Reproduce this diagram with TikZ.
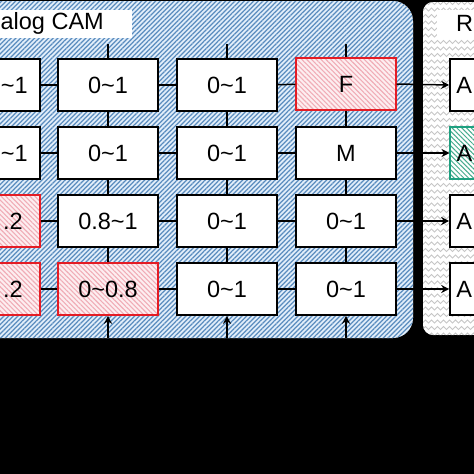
\documentclass[tikz,border=0pt]{standalone}
\usepackage{fontspec}
\setmainfont{Liberation Sans}
\usetikzlibrary{arrows.meta,positioning,patterns.meta,decorations.pathmorphing}
\definecolor{camFill}{RGB}{226,238,250}
\definecolor{camStripe}{RGB}{90,140,190}
\definecolor{missLine}{RGB}{228,28,36}
\definecolor{missFill}{RGB}{253,238,240}
\definecolor{missStripe}{RGB}{240,172,182}
\definecolor{hitLine}{RGB}{30,160,128}
\definecolor{hitStripe}{RGB}{70,172,142}
\newcommand{\rng}[2]{#1\textasciitilde#2}

\begin{document}
\begin{tikzpicture}[x=1pt, y=-1pt,
  every node/.style={font=\fontsize{23.5}{28}\selectfont},
  cellbase/.style={draw, line width=1.6pt, minimum width=100pt, minimum height=52pt, inner sep=0pt},
  cell/.style={cellbase, fill=white},
  miss/.style={cellbase, draw=missLine, preaction={fill=missFill},
    pattern={Lines[angle=-45, distance=3.4pt, line width=1.1pt]}, pattern color=missStripe},
  hit/.style={cellbase, draw=hitLine, preaction={fill=white},
    pattern={Lines[angle=-45, distance=3.4pt, line width=1pt]}, pattern color=hitStripe},
  celltext/.style={inner sep=0pt},
  panellabel/.style={fill=white, inner ysep=0pt, minimum height=28pt},
  wire/.style={line width=1.5pt},
  arrowwire/.style={wire, -{Stealth[length=8pt, width=8pt]}},
  wavy/.style={gray!45, line width=0.8pt, decorate, decoration={zigzag, segment length=6pt, amplitude=1.6pt}},
]
\useasboundingbox (0,0) rectangle (474,474);
\clip (0,0) rectangle (474,474);
\fill[black] (0,0) rectangle (474,474);
% analog CAM panel
\fill[camFill] (-40,1) [rounded corners=20pt] rectangle (413,338);
\path[pattern={Lines[angle=45, distance=3.3pt, line width=1.25pt]}, pattern color=camStripe]
  (-40,1) [rounded corners=20pt] rectangle (413,338);
\node[panellabel, anchor=east, inner xsep=28pt] (camlabel) at (132,23.5) {alog CAM};
% result panel
\begin{scope}
  \clip[rounded corners=10pt] (423,2) rectangle (500,335);
  \fill[white] (423,2) rectangle (500,335);
  \foreach \yy in {3,9.5,...,336}
    \draw[wavy] (418,\yy) -- (480,\yy);
\end{scope}
\node[panellabel, anchor=west, inner xsep=19pt] (rlabel) at (437,23.5) {R};
% row 1
\node[cell] (c11) at (-10,85) {};
\node[celltext, anchor=east] (c11t) at ([xshift=-13pt]c11.east) {\textasciitilde1};
\node[cell] (c12) at (108,85) {\rng{0}{1}};
\node[cell] (c13) at (227,85) {\rng{0}{1}};
\node[miss] (c14) at (346,84) {F};
% row 2
\node[cell] (c21) at (-10,153) {};
\node[celltext, anchor=east] (c21t) at ([xshift=-13pt]c21.east) {\textasciitilde1};
\node[cell] (c22) at (108,153) {\rng{0}{1}};
\node[cell] (c23) at (227,153) {\rng{0}{1}};
\node[cell] (c24) at (346,153) {M};
% row 3
\node[miss] (c31) at (-10,221) {};
\node[celltext, anchor=east] (c31t) at ([xshift=-18pt]c31.east) {.2};
\node[cell] (c32) at (108,221) {\rng{0.8}{1}};
\node[cell] (c33) at (227,221) {\rng{0}{1}};
\node[cell] (c34) at (346,221) {\rng{0}{1}};
% row 4
\node[miss] (c41) at (-10,289) {};
\node[celltext, anchor=east] (c41t) at ([xshift=-18pt]c41.east) {.2};
\node[miss] (c42) at (108,289) {\rng{0}{0.8}};
\node[cell] (c43) at (227,289) {\rng{0}{1}};
\node[cell] (c44) at (346,289) {\rng{0}{1}};
% outputs
\node[cell] (a1) at (500,85) {};
\node[hit] (a2) at (500,153) {};
\node[cell] (a3) at (500,221) {};
\node[cell] (a4) at (500,289) {};
\foreach \r in {1,...,4}
  \node[celltext, anchor=west] (a\r t) at ([xshift=7pt]a\r.west) {A};
% connectors
\foreach \c/\x in {1/-10, 2/108, 3/227, 4/346} {
  \coordinate (top\c) at (\x,44);
  \coordinate (bot\c) at (\x,338);
  \draw[wire] (top\c) -- (c1\c);
  \draw[wire] (c1\c) -- (c2\c);
  \draw[wire] (c2\c) -- (c3\c);
  \draw[wire] (c3\c) -- (c4\c);
  \draw[arrowwire] (bot\c) -- (c4\c);
}
\foreach \r in {1,...,4} {
  \draw[wire] (c\r1) -- (c\r2);
  \draw[wire] (c\r2) -- (c\r3);
  \draw[wire] (c\r3) -- (c\r4);
  \draw[arrowwire] (c\r4.east) -- (a\r.west);
}
\end{tikzpicture}
\end{document}
